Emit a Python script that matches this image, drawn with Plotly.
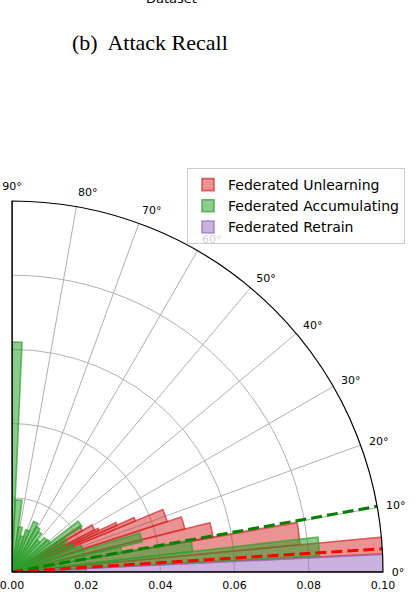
import plotly.graph_objects as go

# ---- data ----
angle_ticks = [0, 10, 20, 30, 40, 50, 60, 70, 80, 90]
angle_labels = ["0°", "10°", "20°", "30°", "40°", "50°", "60°", "70°", "80°", "90°"]
radial_ticks = [0.00, 0.02, 0.04, 0.06, 0.08, 0.10]

unl_theta = [4.1, 7.6, 11.9, 16.0, 20.25, 23.25, 24.75, 26.25, 28.75, 32.25]
unl_width = [2.6, 4.4, 4.2, 4.0, 4.5, 1.5, 1.5, 1.5, 3.5, 3.5]
unl_r = [0.12, 0.078, 0.055, 0.048, 0.044, 0.036, 0.031, 0.026, 0.025, 0.022]

acc_theta = [1.5, 4.75, 8.25, 11.5, 15.0, 19.0, 23.0, 27.0, 31.0, 35.25, 39.75,
             44.5, 49.5, 54.5, 59.5, 64.5, 69.5, 74.5, 79.5, 84.75, 88.75]
acc_width = [3.0, 3.5, 3.5, 3.0, 4.0, 4.0, 4.0, 4.0, 4.0, 4.5, 4.5,
             5.0, 5.0, 5.0, 5.0, 5.0, 5.0, 5.0, 5.0, 5.5, 2.5]
acc_r = [0.020, 0.083, 0.049, 0.030, 0.036, 0.020, 0.018, 0.016, 0.017, 0.0225, 0.013,
         0.0127, 0.011, 0.013, 0.0138, 0.0148, 0.012, 0.010, 0.0123, 0.0195, 0.062]

ret_theta = [1.35]
ret_width = [2.7]
ret_r = [0.12]

unl_mean_angle = 3.6
acc_mean_angle = 10.2
line_r = [0.0, 0.1]

names = ["Federated Unlearning", "Federated Accumulating", "Federated Retrain"]

# ---- figure ----
fig = go.Figure()

series = [
    (unl_theta, unl_width, unl_r, "rgba(214,39,40,0.5)", "rgba(214,39,40,0.7)"),
    (acc_theta, acc_width, acc_r, "rgba(44,160,44,0.55)", "rgba(44,160,44,0.7)"),
    (ret_theta, ret_width, ret_r, "rgba(148,103,189,0.5)", "rgba(148,103,189,0.7)"),
]
for (th, w, r, fc, lc), nm in zip(series, names):
    fig.add_trace(go.Barpolar(
        theta=th, r=r, width=w, name=nm,
        marker=dict(color=fc, line=dict(color=lc, width=1.6)),
    ))

fig.add_trace(go.Scatterpolar(
    theta=[acc_mean_angle] * 2, r=line_r, mode="lines", showlegend=False,
    line=dict(color="rgb(0,128,0)", width=3, dash="11px,5px"),
))
fig.add_trace(go.Scatterpolar(
    theta=[unl_mean_angle] * 2, r=line_r, mode="lines", showlegend=False,
    line=dict(color="rgb(255,0,0)", width=3, dash="11px,5px"),
))
# left spine of the quarter
fig.add_trace(go.Scatterpolar(
    theta=[90, 90], r=line_r, mode="lines", showlegend=False,
    line=dict(color="black", width=1.2),
))

fig.update_layout(
    width=416, height=592,
    margin=dict(l=0, r=0, t=0, b=0),
    paper_bgcolor="white",
    font=dict(family="DejaVu Sans", color="black"),
    polar=dict(
        domain=dict(x=[12 / 416, 383 / 416], y=[20 / 592, 391 / 592]),
        sector=[0, 90],
        bgcolor="white",
        barmode="overlay",
        angularaxis=dict(
            tickmode="array", tickvals=angle_ticks, ticktext=angle_labels,
            direction="counterclockwise", rotation=0,
            showline=True, linecolor="black", linewidth=1.2,
            gridcolor="#b0b0b0", gridwidth=0.8,
            ticks="outside", ticklen=6, tickcolor="rgba(0,0,0,0)",
            tickfont=dict(size=11, family="DejaVu Sans", color="black"),
        ),
        radialaxis=dict(
            range=[0, 0.1], tickmode="array", tickvals=radial_ticks,
            tickformat=".2f", angle=0, side="clockwise",
            showline=True, linecolor="black", linewidth=1.2,
            gridcolor="#b0b0b0", gridwidth=0.8,
            ticks="outside", ticklen=3, tickcolor="rgba(0,0,0,0)",
            tickfont=dict(size=11, family="DejaVu Sans", color="black"),
        ),
    ),
    legend=dict(
        x=187 / 416, y=1 - 168 / 592, xanchor="left", yanchor="top",
        bgcolor="rgba(255,255,255,0.8)", bordercolor="#cccccc", borderwidth=1,
        font=dict(size=14, family="DejaVu Sans", color="black"),
    ),
    annotations=[
        dict(text="Dataset", x=171 / 416, y=1 + 1 / 592, xref="paper", yref="paper",
             xanchor="center", yanchor="middle", showarrow=False,
             font=dict(size=13, family="DejaVu Sans", color="black")),
        dict(text="(b)  Attack Recall", x=150 / 416, y=1 - 43 / 592, xref="paper", yref="paper",
             xanchor="center", yanchor="middle", showarrow=False,
             font=dict(size=22, family="Liberation Serif", color="black")),
    ],
)

fig.write_html(
    "out.html",
    config={"displayModeBar": False},
    post_script="document.body.style.margin='0';document.body.style.overflow='hidden';",
)
